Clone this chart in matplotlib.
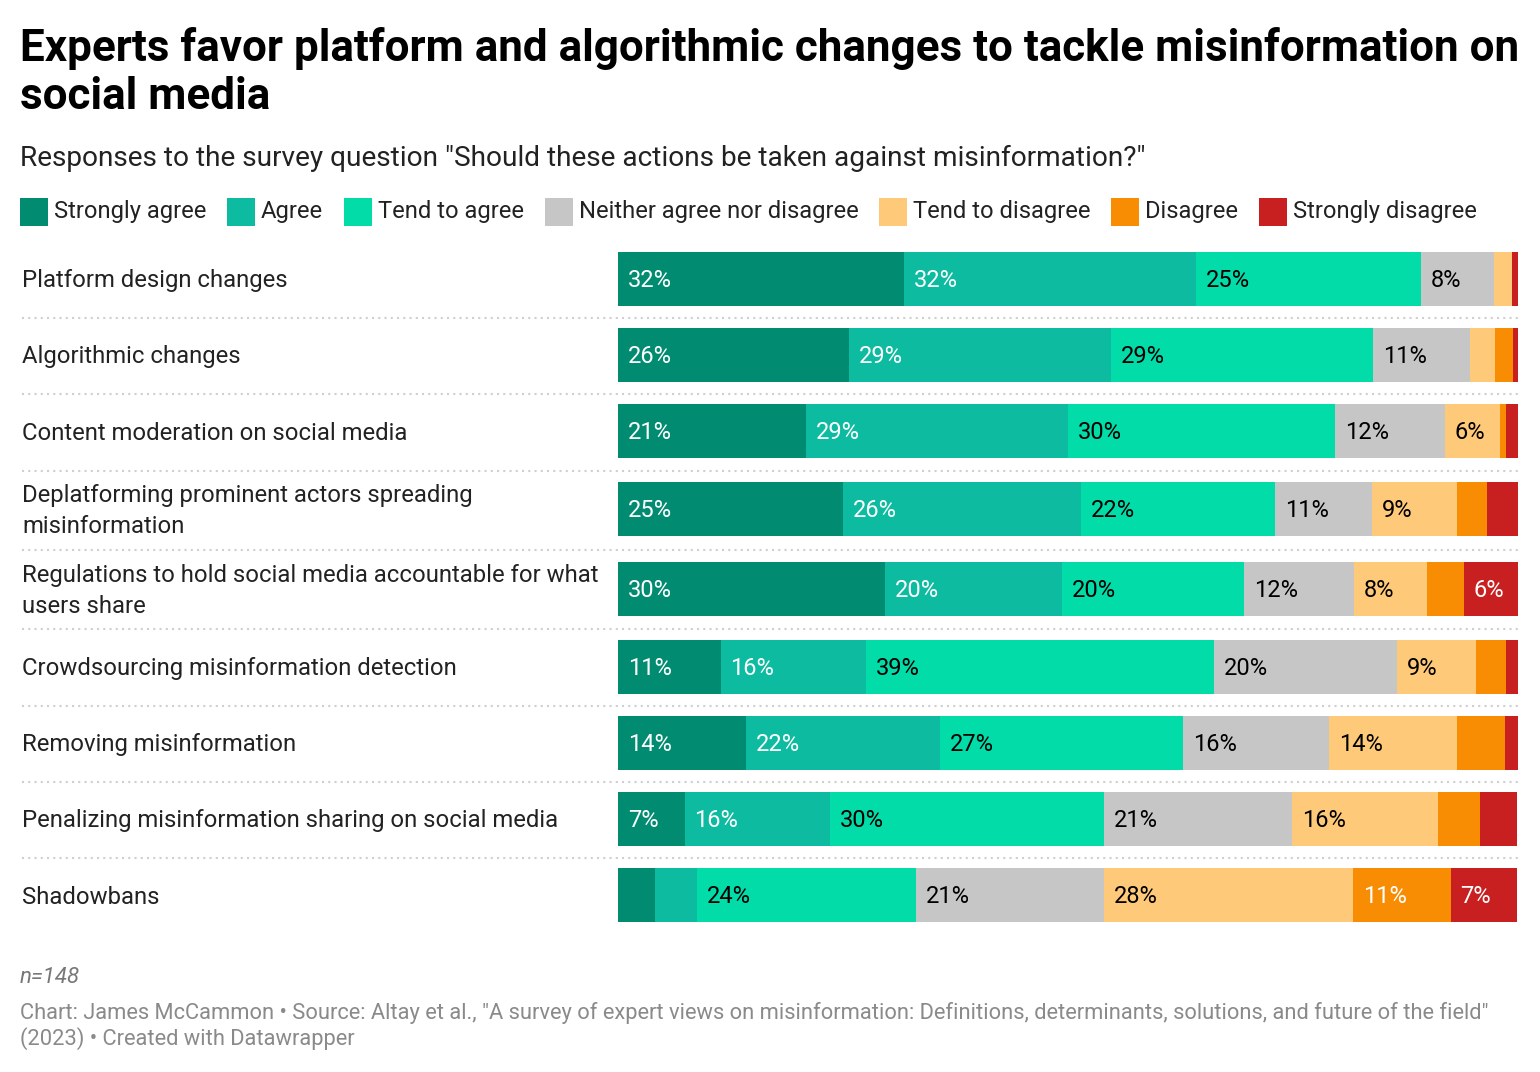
import matplotlib
matplotlib.use('Agg')
import matplotlib.pyplot as plt
from matplotlib.patches import Rectangle
import numpy as np

plt.rcParams['font.family'] = ['Roboto', 'DejaVu Sans']

# %% data (share of n=148 respondents, %)
categories = ['Strongly agree', 'Agree', 'Tend to agree', 'Neither agree nor disagree',
              'Tend to disagree', 'Disagree', 'Strongly disagree']
colors = ['#018c72', '#0cbba0', '#01dca8', '#c6c6c6', '#fec979', '#f88c02', '#c81f20']
text_colors = ['white', 'white', 'black', 'black', 'black', 'white', 'white']

actions = ['Platform design changes',
           'Algorithmic changes',
           'Content moderation on social media',
           'Deplatforming prominent actors spreading\nmisinformation',
           'Regulations to hold social media accountable for what\nusers share',
           'Crowdsourcing misinformation detection',
           'Removing misinformation',
           'Penalizing misinformation sharing on social media',
           'Shadowbans']

strongly_agree = [31.8, 25.7, 20.9, 25.0, 29.7, 11.4, 14.2, 7.4, 4.1]
agree = [32.4, 29.1, 29.1, 26.4, 19.6, 16.2, 21.6, 16.2, 4.7]
tend_agree = [25.0, 29.1, 29.7, 21.6, 20.3, 38.6, 27.0, 30.4, 24.3]
neither = [8.1, 10.8, 12.2, 10.8, 12.2, 20.3, 16.2, 20.9, 20.9]
tend_disagree = [2.0, 2.7, 6.1, 9.4, 8.1, 8.8, 14.2, 16.2, 27.7]
disagree = [0.0, 2.0, 0.7, 3.4, 4.1, 3.4, 5.4, 4.7, 10.8]
strongly_disagree = [0.7, 0.7, 1.4, 3.4, 6.1, 1.4, 1.4, 4.1, 7.4]

series = [strongly_agree, agree, tend_agree, neither, tend_disagree, disagree, strongly_disagree]

title = ['Experts favor platform and algorithmic changes to tackle misinformation on', 'social media']
subtitle = 'Responses to the survey question "Should these actions be taken against misinformation?"'
n_note = 'n=148'
source = ['Chart: James McCammon \u2022 Source: Altay et al., "A survey of expert views on misinformation: '
          'Definitions, determinants, solutions, and future of the field"',
          '(2023) \u2022 Created with Datawrapper']

# %% figure
W, H = 1540, 1072
fig = plt.figure(figsize=(W / 100, H / 100), dpi=100)
bg = fig.add_axes([0, 0, 1, 1])
bg.set_xlim(0, W)
bg.set_ylim(H, 0)
bg.axis('off')

bg.text(20, 61, title[0], fontsize=31.65, fontweight='bold', color='black', va='baseline')
bg.text(20, 109, title[1], fontsize=31.65, fontweight='bold', color='black', va='baseline')
bg.text(20, 166, subtitle, fontsize=20.2, color='#222222', va='baseline')

# legend
renderer = fig.canvas.get_renderer()
lx = 20
for cat, col in zip(categories, colors):
    bg.add_patch(Rectangle((lx, 198), 28, 28, color=col, lw=0))
    t = bg.text(lx + 34, 218, cat, fontsize=17.1, color='#222222', va='baseline')
    bb = t.get_window_extent(renderer=renderer)
    lx = lx + 34 + bb.width + 20.7

# row positions (taller rows for two-line labels)
nlines = [a.count('\n') + 1 for a in actions]
yc = [279]
for i in range(1, len(actions)):
    yc.append(yc[-1] + 76 + 2 * (nlines[i - 1] - 1) + 2 * (nlines[i] - 1))
yc = np.array(yc)

top, bot = 240, 935
ax = fig.add_axes([618 / W, 1 - bot / H, 900 / W, (bot - top) / H])
ax.set_xlim(0, 100)
ax.set_ylim(bot, top)
ax.axis('off')

left = np.zeros(len(actions))
for vals, col, tc in zip(series, colors, text_colors):
    vals = np.array(vals)
    ax.barh(yc, vals, left=left, height=54, color=col, lw=0)
    for y, l, v in zip(yc, left, vals):
        if v >= 5.5:
            ax.text(l + 1.1, y + 1.5, f'{v:.0f}%', color=tc, fontsize=17, va='center', ha='left')
    left = left + vals

for y, a in zip(yc, actions):
    bg.text(22, y + 2, a, fontsize=17.2, color='#222222', va='center', ha='left', linespacing=1.4)

for y0, y1 in zip(yc[:-1], yc[1:]):
    ym = (y0 + y1) / 2 + 0.5
    bg.plot([22, 1518], [ym, ym], color='#cfcfcf', lw=1.5, ls=(0, (1, 2)))

bg.text(20, 983, n_note, fontsize=16, style='italic', color='#777777', va='baseline')
bg.text(20, 1019, source[0], fontsize=15.75, color='#8a8a8a', va='baseline')
bg.text(20, 1045, source[1], fontsize=15.75, color='#8a8a8a', va='baseline')

fig.savefig('out.png', dpi=100)
